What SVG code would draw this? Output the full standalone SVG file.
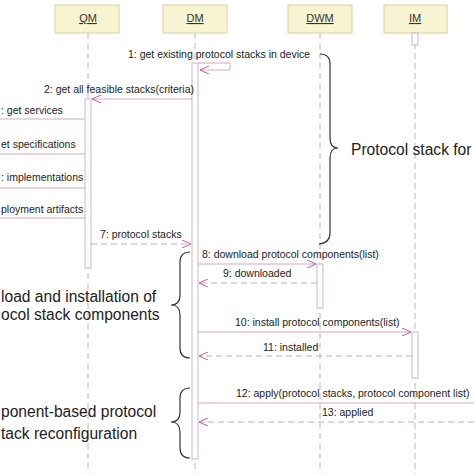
<svg xmlns="http://www.w3.org/2000/svg" width="474" height="474" viewBox="0 0 474 474">
<defs>
<style>
.hdr{fill:#f8f3d0;stroke:#d8d2a4;stroke-width:1}
.hdrt{font-family:"Liberation Sans",Arial,sans-serif;font-size:11px;fill:#333;text-anchor:middle;text-decoration:underline}
.life{stroke:#b8b8b8;stroke-width:1;stroke-dasharray:6,4;fill:none}
.act{fill:#fff;stroke:#c8b8c4;stroke-width:1}
.msg{stroke:#d6a6c4;stroke-width:1;fill:none}
.ret{stroke:#c4aab8;stroke-width:1;fill:none;stroke-dasharray:6,4}
.lbl{font-family:"Liberation Sans",Arial,sans-serif;font-size:10.5px;fill:#222}
.big{font-family:"Liberation Sans",Arial,sans-serif;font-size:15.6px;fill:#222}
.brace{stroke:#333;stroke-width:1.2;fill:none}
</style>
<marker id="ah" markerWidth="10" markerHeight="8" refX="9" refY="4" orient="auto" markerUnits="userSpaceOnUse">
<path d="M0,0 L9,4 L0,8" fill="none" stroke="#c0608e" stroke-width="1"/>
</marker>
</defs>
<rect width="474" height="474" fill="#fff"/>
<g id="QM"><rect class="hdr" x="55" y="5" width="64" height="28"/><text class="hdrt" x="88" y="22">QM</text><line class="life" x1="88" y1="33" x2="88" y2="474"/><rect class="act" x="85" y="99" width="6" height="169"/></g>
<g id="DM"><rect class="hdr" x="163" y="5" width="64" height="28"/><text class="hdrt" x="195" y="22">DM</text><line class="life" x1="195" y1="33" x2="195" y2="474"/><rect class="act" x="192" y="63" width="6" height="396"/></g>
<g id="DWM"><rect class="hdr" x="288" y="5" width="64" height="28"/><text class="hdrt" x="320" y="22">DWM</text><line class="life" x1="320" y1="33" x2="320" y2="474"/><rect class="act" x="317" y="264" width="6" height="44"/></g>
<g id="IM"><rect class="hdr" x="384" y="5" width="63" height="28"/><text class="hdrt" x="415" y="22">IM</text><line class="life" x1="415" y1="33" x2="415" y2="474"/><rect class="act" x="412" y="33" width="6" height="12"/><rect class="act" x="412" y="332" width="6" height="46"/></g>
<g id="connectors">
<path class="msg" d="M198,63 H230 V70 H200" marker-end="url(#ah)"/>
<line class="msg" x1="192" y1="99" x2="92" y2="99" marker-end="url(#ah)"/>
<line class="msg" x1="85" y1="119" x2="0" y2="119"/>
<line class="msg" x1="85" y1="154" x2="0" y2="154"/>
<line class="msg" x1="85" y1="188" x2="0" y2="188"/>
<line class="msg" x1="85" y1="218" x2="0" y2="218"/>
<line class="ret" x1="91" y1="244" x2="191" y2="244" marker-end="url(#ah)"/>
<line class="msg" x1="198" y1="264" x2="316" y2="264" marker-end="url(#ah)"/>
<line class="ret" x1="317" y1="283" x2="199" y2="283" marker-end="url(#ah)"/>
<line class="msg" x1="198" y1="332" x2="411" y2="332" marker-end="url(#ah)"/>
<line class="ret" x1="412" y1="356" x2="199" y2="356" marker-end="url(#ah)"/>
<line class="msg" x1="198" y1="403" x2="474" y2="403"/>
<line class="ret" x1="474" y1="422" x2="199" y2="422" marker-end="url(#ah)"/>
</g>
<g id="labels">
<text class="lbl" x="128" y="58">1: get existing protocol stacks in device</text>
<text class="lbl" x="44" y="93">2: get all feasible stacks(criteria)</text>
<text class="lbl" x="1" y="114">: get services</text>
<text class="lbl" x="1" y="148">et specifications</text>
<text class="lbl" x="1" y="181">: implementations</text>
<text class="lbl" x="1" y="213">ployment artifacts</text>
<text class="lbl" x="100" y="238">7: protocol stacks</text>
<text class="lbl" x="202" y="258">8: download protocol components(list)</text>
<text class="lbl" x="223" y="277">9: downloaded</text>
<text class="lbl" x="235" y="326">10: install protocol components(list)</text>
<text class="lbl" x="263" y="351">11: installed</text>
<text class="lbl" x="236" y="397">12: apply(protocol stacks, protocol component list)</text>
<text class="lbl" x="322" y="416">13: applied</text>
</g>
<g id="brace1"><path class="brace" d="M320,54 Q330,54 330,64 L330,138 Q330,148 338,148 Q330,148 330,158 L330,233 Q330,243 319,244"/><text class="big" x="351" y="155">Protocol stack for</text></g>
<g id="brace2"><path class="brace" d="M190,252 Q180,252 180,262 L180,295 Q180,305 171,305 Q180,305 180,315 L180,348 Q180,358 190,358"/><text class="big" x="1" y="302">load and installation of</text><text class="big" x="1" y="320">ocol stack components</text></g>
<g id="brace3"><path class="brace" d="M190,388 Q180,388 180,398 L180,412 Q180,422 171,422 Q180,422 180,432 L180,448 Q180,458 190,458"/><text class="big" x="1" y="417">ponent-based protocol</text><text class="big" x="1" y="439">tack reconfiguration</text></g>
</svg>
